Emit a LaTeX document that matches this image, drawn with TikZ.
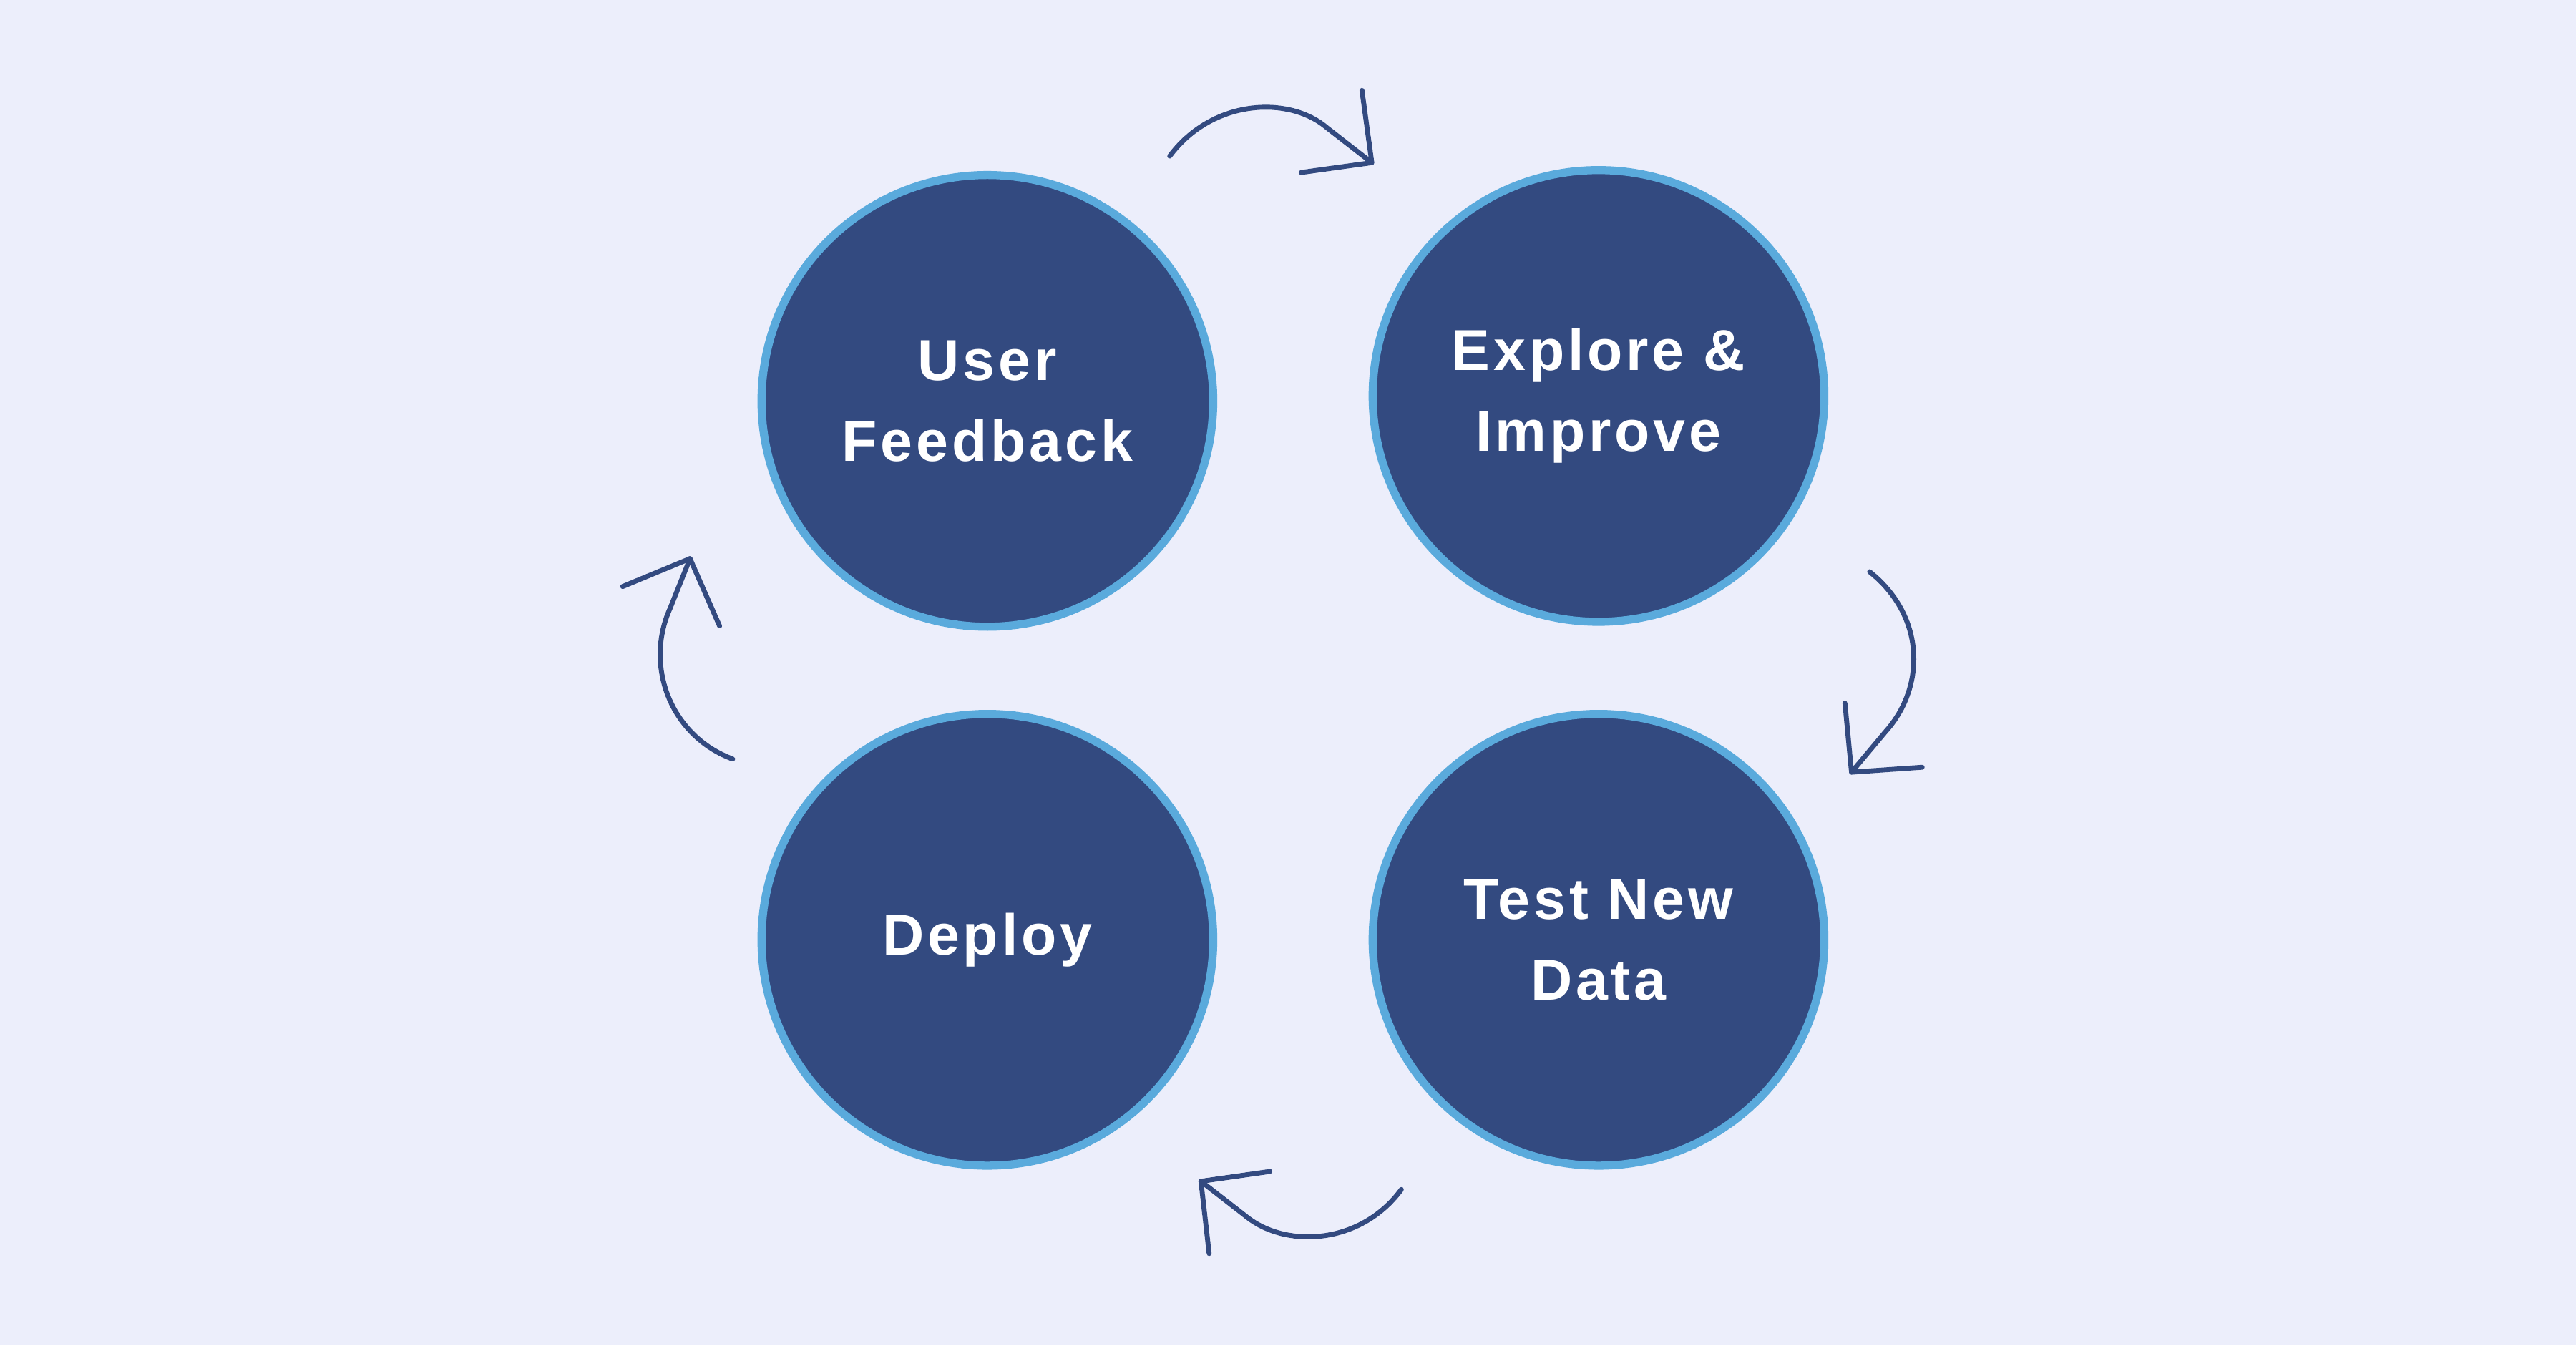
\documentclass[tikz,border=0pt]{standalone}
\usepackage{fontspec}
\setmainfont{Liberation Sans}[LetterSpace=6]
\begin{document}
\begin{tikzpicture}[x=0.02cm,y=-0.02cm,
  stage/.style={circle,draw=ringc,fill=fillc,line width=2.8pt,minimum size=5.5cm,inner sep=0pt,
    text=white,font=\fontsize{20}{28}\selectfont\bfseries,align=center,text width=4.6cm},
  cyc/.style={draw=fillc,line width=1.7pt,line cap=round,line join=round}]
\definecolor{bgc}{HTML}{ECEEFB}
\definecolor{fillc}{HTML}{334A80}
\definecolor{ringc}{HTML}{5AAADC}
\fill[bgc] (0,0) rectangle (1568,819);
\useasboundingbox (0,0) rectangle (1568,819);
\node[stage] (uf) at (601,244) {User\\Feedback};
\node[stage] (ei) at (973,241) {Explore \&\\Improve};
\node[stage] (dp) at (601,572) {Deploy};
\node[stage] (tn) at (973,572) {Test New\\Data};
% top arrow
\coordinate (a1) at (712,95); \coordinate (t1) at (835,99);
\coordinate (h1a) at (829,55); \coordinate (h1b) at (792,105);
\draw[cyc] (a1) .. controls (738,60) and (785,58) .. (808,78) -- (t1);
\draw[cyc] (h1a) -- (t1) -- (h1b);
% right arrow
\coordinate (a2) at (1138,348); \coordinate (t2) at (1127,470);
\coordinate (h2a) at (1123,428); \coordinate (h2b) at (1170,467);
\draw[cyc] (a2) .. controls (1172,375) and (1172,418) .. (1148,445) -- (t2);
\draw[cyc] (h2a) -- (t2) -- (h2b);
% bottom arrow
\coordinate (a3) at (853,724); \coordinate (t3) at (731,719);
\coordinate (h3a) at (736,763); \coordinate (h3b) at (773,713);
\draw[cyc] (a3) .. controls (828,758) and (782,760) .. (758,740) -- (t3);
\draw[cyc] (h3a) -- (t3) -- (h3b);
% left arrow
\coordinate (a4) at (446,462); \coordinate (t4) at (420,340);
\coordinate (h4a) at (379,357); \coordinate (h4b) at (438,381);
\draw[cyc] (a4) .. controls (408,448) and (392,405) .. (408,370) -- (t4);
\draw[cyc] (h4a) -- (t4) -- (h4b);
\end{tikzpicture}
\end{document}
